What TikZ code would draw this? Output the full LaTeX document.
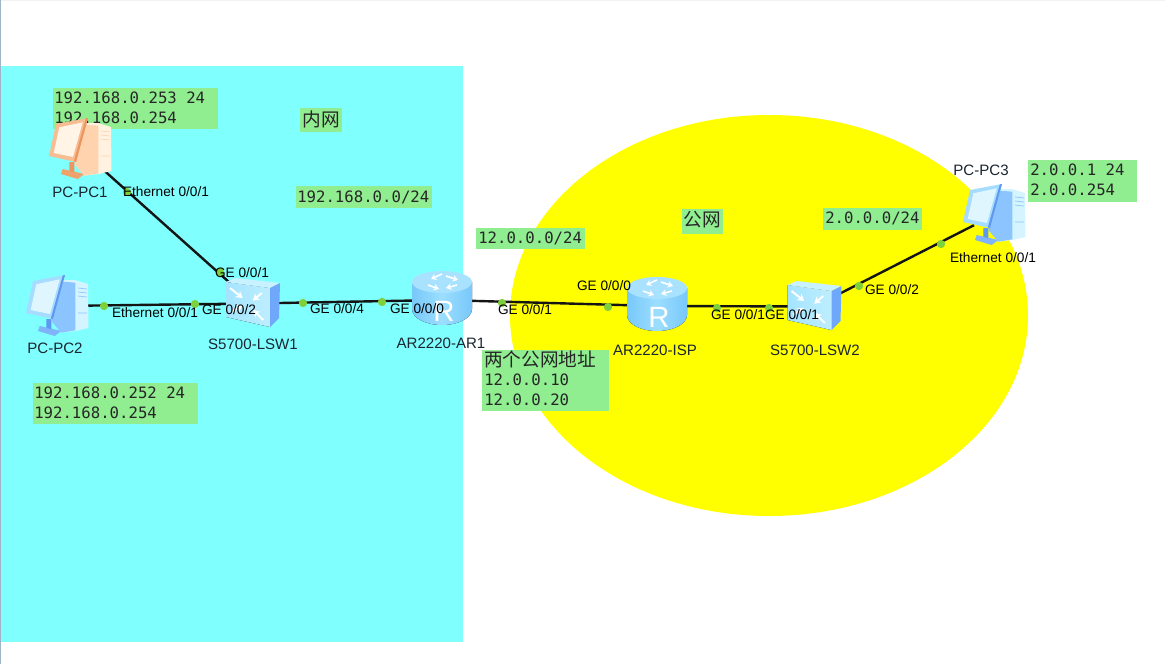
\documentclass[tikz,border=0pt]{standalone}
\usepackage{fontspec}
\setmainfont{Liberation Sans}
\newfontfamily\ipfont{DejaVu Sans Mono}
\newfontfamily\cjk{Noto Sans CJK SC}
\usetikzlibrary{arrows.meta}
\definecolor{cyanbg}{HTML}{80FFFF}
\definecolor{zoneyellow}{HTML}{FFFF00}
\definecolor{notegreen}{HTML}{90EE90}
\definecolor{dotgreen}{HTML}{7FD13B}
\definecolor{labelink}{HTML}{1A2530}
\definecolor{edgegray}{HTML}{A0B4C8}
% orange PC
\definecolor{orMon}{HTML}{F8BC92}\definecolor{orScr}{HTML}{FFF4E6}\definecolor{orSide}{HTML}{FFD3AE}
\definecolor{orTow}{HTML}{FFF2E0}\definecolor{orBase}{HTML}{F0A26C}\definecolor{orEdge}{HTML}{EC9560}
% blue PC
\definecolor{blMon}{HTML}{A6DCFF}\definecolor{blScr}{HTML}{DFF6FF}\definecolor{blSide}{HTML}{8CC4FF}
\definecolor{blTow}{HTML}{D4F4FF}\definecolor{blBase}{HTML}{7FB4F8}\definecolor{blEdge}{HTML}{5F98F0}
% network gear
\definecolor{gearFrontA}{HTML}{A4E4FF}\definecolor{gearFrontB}{HTML}{BDEEFF}
\definecolor{gearTop}{HTML}{C8F2FF}\definecolor{gearSide}{HTML}{6FA8FA}
\definecolor{rtrEdge}{HTML}{78C8FA}\definecolor{rtrMid}{HTML}{9CDEFF}\definecolor{rtrTop}{HTML}{A8E2FF}
\tikzset{
  x=0.75pt,y=-0.75pt,
  frame/.style={inner sep=0pt,outer sep=0pt,minimum width=#1,minimum height=#1},
  link/.style={line width=1.8pt,draw=black!92},
  portdot/.style={circle,fill=dotgreen,inner sep=0pt,minimum size=6.2pt},
  note/.style={fill=notegreen,draw=none},
  iptext/.style={font=\ipfont\fontsize{11.75pt}{14pt}\selectfont,text=black!85,inner sep=0pt,anchor=west},
  cjktext/.style={font=\cjk\fontsize{14pt}{16pt}\selectfont,text=black!85,inner sep=0pt},
  portlabel/.style={font=\fontsize{10.25pt}{12pt}\selectfont,text=black,inner sep=0pt},
  devlabel/.style={font=\fontsize{11.3pt}{13pt}\selectfont,text=labelink,inner sep=0pt},
  whitearrow/.style={draw=white,line width=1.5pt,-{Stealth[length=5pt,width=6pt]}},
  topknot/.style={draw=white,line width=1.2pt,-{Stealth[length=4pt,width=5pt]}},
}
\newcommand{\drawpc}[2]{%
  \begin{scope}[shift={(#1.center)},shift={(-32,-31)}]
    \fill[#2Base] (14.7,51) -- (36.3,56) -- (29.7,61) -- (13,56) -- cycle;
    \fill[#2Edge] (21.3,44) -- (26.3,44) -- (26.3,54.3) -- (21.3,52.7) -- cycle;
    \fill[#2Tow] (38,5) -- (50,5) -- (63,9) -- (63.5,53) -- (50.3,56) -- (36.3,57.7) -- cycle;
    \fill[#2Side] (38,6.7) -- (50.3,7.7) -- (50.3,55.3) -- (36.3,57.7) -- (26.3,46) -- cycle;
    \draw[#2Side,line width=.5pt] (53,13) -- (62,14) (53,17) -- (62,18) (53,21) -- (62,22) (53,38) -- (62,38);
    \fill[#2Mon] (1,38) -- (8,6) -- (40,0) -- (28,44) -- cycle;
    \fill[#2Edge] (37.8,0.4) -- (40,0) -- (28,44) -- (25.8,43.5) -- cycle;
    \fill[#2Scr] (5.7,35) -- (11.3,9.3) -- (34.7,4.3) -- (25,39) -- cycle;
  \end{scope}}
\newcommand{\drawswitch}[1]{%
  \begin{scope}[shift={(#1.center)},shift={(-27,-25.5)}]
    \fill[left color=gearFrontA,right color=gearFrontB] (0,4) -- (44,10) -- (44,49) -- (0,39) -- cycle;
    \fill[gearTop] (0,4) -- (9,0) -- (54,5) -- (44,10) -- cycle;
    \fill[gearSide] (44,10) -- (54,5) -- (53,40) -- (44,49) -- cycle;
    \draw[whitearrow] (4,10) -- (16.7,20);
    \draw[whitearrow] (35.7,15) -- (26.7,22.7);
    \draw[whitearrow] (5.7,33.7) -- (16.7,27);
    \draw[whitearrow] (37.3,42) -- (27.3,32);
  \end{scope}}
\newcommand{\drawrouter}[1]{%
  \begin{scope}[shift={(#1.center)},shift={(-30,-29)}]
    \fill[left color=rtrEdge,right color=rtrEdge,middle color=rtrMid]
      (0,11) -- (0,38) arc[start angle=180,end angle=0,x radius=30,y radius=16] -- (60,11) -- cycle;
    \fill[rtrTop] (30,11) ellipse[x radius=30,y radius=11];
    \draw[topknot] (30,3) -- (19,8);
    \draw[topknot] (34,5) -- (46,9);
    \draw[topknot] (45,14) -- (34,17);
    \draw[topknot] (16,14) -- (27,18);
    \node[font=\fontsize{22pt}{22pt}\selectfont,text=white,inner sep=0pt] at (32,40.5) {R};
  \end{scope}}
\begin{document}
\begin{tikzpicture}
\useasboundingbox (0,0) rectangle (1165,664);
\fill[white] (0,0) rectangle (1165,664);
\fill[black!5] (0,0) rectangle (1165,1);
\fill[edgegray] (0,0) rectangle (1,664);
% zones
\fill[cyanbg] (1,66) rectangle (463,642);
\fill[zoneyellow] (769,315.5) ellipse[x radius=259,y radius=200.5];
% notes
\fill[note] (53,88) rectangle (218,129);
\fill[note] (300,108) rectangle (342,132);
\fill[note] (296,186) rectangle (432,208);
\fill[note] (476,228) rectangle (585,249);
\fill[note] (682,209) rectangle (723,234);
\fill[note] (823,208) rectangle (922,230);
\fill[note] (1028,160) rectangle (1137,202);
\fill[note] (33,383) rectangle (198,424);
\fill[note] (482,350) rectangle (609,411);
\node[iptext] (n1a) at (54,98) {192.168.0.253 24};
\node[iptext] (n1b) at (54,118) {192.168.0.254};
\node[cjktext] (nw) at (321,119) {内网};
\node[iptext] (nwnet) at (297,197) {192.168.0.0/24};
\node[iptext] (pubnet) at (478,238.5) {12.0.0.0/24};
\node[cjktext] (gw) at (702.5,220) {公网};
\node[iptext] (p2net) at (825,218) {2.0.0.0/24};
\node[iptext] (n3a) at (1030,170) {2.0.0.1 24};
\node[iptext] (n3b) at (1030,190) {2.0.0.254};
\node[iptext] (n2a) at (34,393) {192.168.0.252 24};
\node[iptext] (n2b) at (34,413) {192.168.0.254};
\node[cjktext,anchor=west] (two) at (484,359) {两个公网地址};
\node[iptext] (twoa) at (484,380) {12.0.0.10};
\node[iptext] (twob) at (484,400) {12.0.0.20};
% device frames (connectors stop inside the icons drawn on top)
\node[frame=30pt] (pc1) at (80,149) {};
\node[frame=30pt] (pc2) at (57,306) {};
\node[frame=30pt] (pc3) at (994,215) {};
\node[frame=30pt] (lsw1) at (253,303.5) {};
\node[frame=30pt] (lsw2) at (814.5,306.5) {};
\node[frame=30pt] (ar1) at (442,300) {};
\node[frame=30pt] (isp) at (657,306) {};
% connectors
\draw[link] (pc1) -- (lsw1);
\draw[link] (pc2) -- (lsw1);
\draw[link] (lsw1) -- (ar1);
\draw[link] (ar1) -- (isp);
\draw[link] (isp) -- (lsw2);
\draw[link] (lsw2) -- (pc3);
% port dots
\node[portdot] (d1) at (127,192) {};
\node[portdot] (d2) at (220,272) {};
\node[portdot] (d3) at (104,306) {};
\node[portdot] (d4) at (195,304) {};
\node[portdot] (d5) at (303,303) {};
\node[portdot] (d6) at (382,302) {};
\node[portdot] (d7) at (502,303) {};
\node[portdot] (d8) at (608,307) {};
\node[portdot] (d9) at (717,308) {};
\node[portdot] (d10) at (769,308) {};
\node[portdot] (d11) at (859,286) {};
\node[portdot] (d12) at (941,244) {};
% icons
\drawpc{pc1}{or}
\drawpc{pc2}{bl}
\drawpc{pc3}{bl}
\drawswitch{lsw1}
\drawswitch{lsw2}
\drawrouter{ar1}
\drawrouter{isp}
% device labels
\node[devlabel] (lpc1) at (80,192) {PC-PC1};
\node[devlabel] (lpc2) at (55,348) {PC-PC2};
\node[devlabel] (lpc3) at (981,170) {PC-PC3};
\node[devlabel] (llsw1) at (253,344) {S5700-LSW1};
\node[devlabel] (lar1) at (441,343) {AR2220-AR1};
\node[devlabel] (lisp) at (655,350) {AR2220-ISP};
\node[devlabel] (llsw2) at (815,350) {S5700-LSW2};
% port labels
\node[portlabel] (p1) at (166,192) {Ethernet 0/0/1};
\node[portlabel] (p2) at (242,273) {GE 0/0/1};
\node[portlabel] (p3) at (155,313) {Ethernet 0/0/1};
\node[portlabel] (p4) at (229,310) {GE 0/0/2};
\node[portlabel] (p5) at (337,309) {GE 0/0/4};
\node[portlabel] (p6) at (417,309) {GE 0/0/0};
\node[portlabel] (p7) at (525,310) {GE 0/0/1};
\node[portlabel] (p8) at (604,286) {GE 0/0/0};
\node[portlabel] (p9) at (738,315) {GE 0/0/1};
\node[portlabel] (p10) at (792,315) {GE 0/0/1};
\node[portlabel] (p11) at (892,290) {GE 0/0/2};
\node[portlabel] (p12) at (993,258) {Ethernet 0/0/1};
\end{tikzpicture}
\end{document}
